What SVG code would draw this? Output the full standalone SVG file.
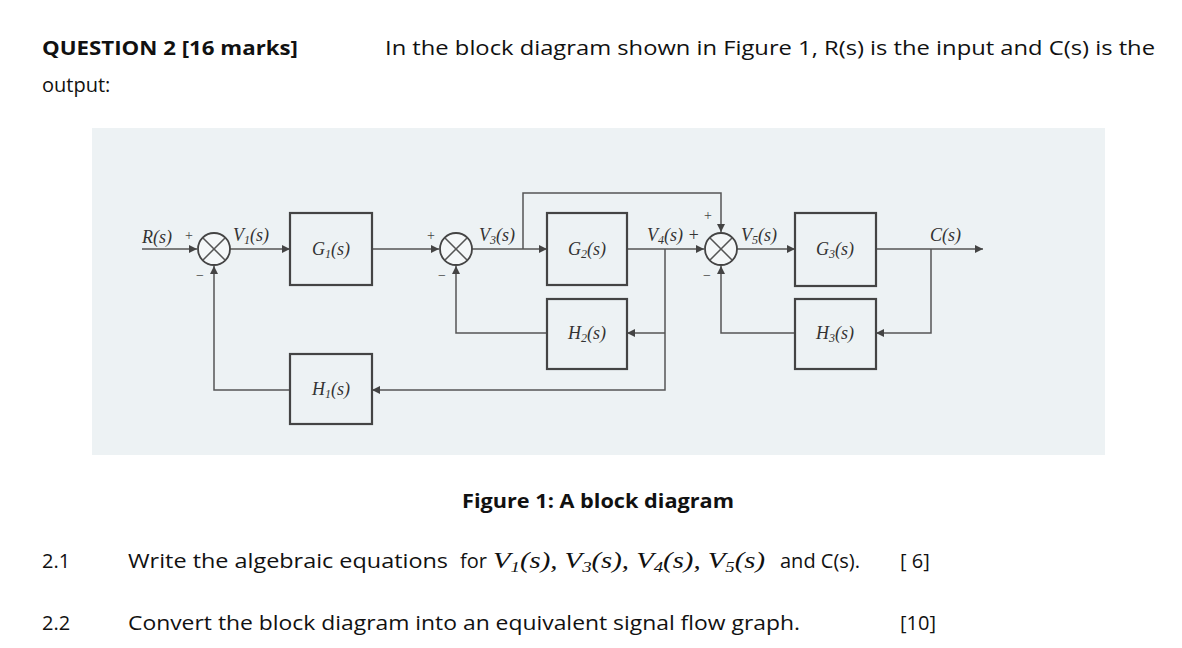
<svg xmlns="http://www.w3.org/2000/svg" width="1182" height="648" viewBox="0 0 1182 648">
<defs>
<style>
.t{font-family:"Open Sans","Liberation Sans",sans-serif;font-size:20px;fill:#111}
.b{font-weight:bold}
.m{font-family:"Liberation Serif",serif;font-style:italic;font-size:23px;fill:#111}
.d{font-family:"Liberation Serif",serif;font-style:italic;font-size:18px;fill:#333}
.s{font-family:"Liberation Serif",serif;font-size:14px;fill:#444}
.box{fill:none;stroke:#444;stroke-width:2.2}
.ln{fill:none;stroke:#555;stroke-width:1.5}
.sum{fill:#f4f7f8;stroke:#444;stroke-width:1.8}
</style>
<marker id="a" viewBox="0 0 10 10" refX="10" refY="5" markerWidth="10" markerHeight="8" markerUnits="userSpaceOnUse" orient="auto"><path d="M0,0L10,5L0,10z" fill="#444"/></marker>
</defs>
<rect width="1182" height="648" fill="#fff"/>
<text class="t b" x="42" y="55" textLength="256" lengthAdjust="spacingAndGlyphs">QUESTION 2 [16 marks]</text>
<text class="t" x="385" y="55" textLength="770" lengthAdjust="spacingAndGlyphs">In the block diagram shown in Figure 1, R(s) is the input and C(s) is the</text>
<text class="t" x="42" y="92">output:</text>
<rect x="92" y="128" width="1013" height="327" fill="#edf2f4"/>
<g id="connectors">
<path class="ln" d="M142,249H197" marker-end="url(#a)"/>
<path class="ln" d="M230,249H290" marker-end="url(#a)"/>
<path class="ln" d="M372,249H439" marker-end="url(#a)"/>
<path class="ln" d="M472,249H547" marker-end="url(#a)"/>
<path class="ln" d="M523,249V193H721V232" marker-end="url(#a)"/>
<path class="ln" d="M627,249H704" marker-end="url(#a)"/>
<path class="ln" d="M665,249V390H372" marker-end="url(#a)"/>
<path class="ln" d="M665,333H627" marker-end="url(#a)"/>
<path class="ln" d="M547,333H456V266" marker-end="url(#a)"/>
<path class="ln" d="M290,390H214V266" marker-end="url(#a)"/>
<path class="ln" d="M737,249H795" marker-end="url(#a)"/>
<path class="ln" d="M876,249H983" marker-end="url(#a)"/>
<path class="ln" d="M931,249V333H876" marker-end="url(#a)"/>
<path class="ln" d="M795,333H721V266" marker-end="url(#a)"/>
</g>
<g id="sum1"><circle class="sum" cx="214" cy="249" r="16"/><path class="ln" d="M203,238L225,260M225,238L203,260"/></g>
<g id="sum2"><circle class="sum" cx="456" cy="249" r="16"/><path class="ln" d="M445,238L467,260M467,238L445,260"/></g>
<g id="sum3"><circle class="sum" cx="721" cy="249" r="16"/><path class="ln" d="M710,238L732,260M732,238L710,260"/></g>
<g id="G1"><rect class="box" x="290" y="213" width="82" height="72"/><text class="d" x="331" y="255" text-anchor="middle">G<tspan font-size="12" dy="3">1</tspan><tspan dy="-3">(s)</tspan></text></g>
<g id="G2"><rect class="box" x="547" y="213" width="80" height="72"/><text class="d" x="587" y="255" text-anchor="middle">G<tspan font-size="12" dy="3">2</tspan><tspan dy="-3">(s)</tspan></text></g>
<g id="G3"><rect class="box" x="795" y="213" width="81" height="73"/><text class="d" x="835" y="255" text-anchor="middle">G<tspan font-size="12" dy="3">3</tspan><tspan dy="-3">(s)</tspan></text></g>
<g id="H1"><rect class="box" x="290" y="354" width="82" height="70"/><text class="d" x="331" y="395" text-anchor="middle">H<tspan font-size="12" dy="3">1</tspan><tspan dy="-3">(s)</tspan></text></g>
<g id="H2"><rect class="box" x="547" y="299" width="80" height="70"/><text class="d" x="587" y="339" text-anchor="middle">H<tspan font-size="12" dy="3">2</tspan><tspan dy="-3">(s)</tspan></text></g>
<g id="H3"><rect class="box" x="795" y="299" width="81" height="70"/><text class="d" x="835" y="339" text-anchor="middle">H<tspan font-size="12" dy="3">3</tspan><tspan dy="-3">(s)</tspan></text></g>
<g id="labels">
<text class="d" x="142" y="243">R(s)</text><text class="s" x="185" y="240">+</text>
<text class="d" x="233" y="241">V<tspan font-size="12" dy="3">1</tspan><tspan dy="-3">(s)</tspan></text>
<text class="s" x="196" y="280">−</text>
<text class="s" x="427" y="240">+</text>
<text class="s" x="438" y="280">−</text>
<text class="d" x="479" y="241">V<tspan font-size="12" dy="3">3</tspan><tspan dy="-3">(s)</tspan></text>
<text class="d" x="647" y="241">V<tspan font-size="12" dy="3">4</tspan><tspan dy="-3">(s) +</tspan></text>
<text class="s" x="704" y="220">+</text>
<text class="s" x="703" y="280">−</text>
<text class="d" x="741" y="241">V<tspan font-size="12" dy="3">5</tspan><tspan dy="-3">(s)</tspan></text>
<text class="d" x="930" y="241">C(s)</text>
</g>
<text class="t b" x="598" y="508" text-anchor="middle" textLength="272" lengthAdjust="spacingAndGlyphs">Figure 1: A block diagram</text>
<text class="t" x="42" y="568">2.1</text>
<text class="t" x="128" y="568" textLength="320" lengthAdjust="spacingAndGlyphs">Write the  algebraic equations</text>
<text class="t" x="460" y="568">for</text>
<text class="m" x="493" y="568" textLength="272" lengthAdjust="spacingAndGlyphs">V<tspan font-size="15" dy="4">1</tspan><tspan dy="-4">(s), V</tspan><tspan font-size="15" dy="4">3</tspan><tspan dy="-4">(s), V</tspan><tspan font-size="15" dy="4">4</tspan><tspan dy="-4">(s), V</tspan><tspan font-size="15" dy="4">5</tspan><tspan dy="-4">(s)</tspan></text>
<text class="t" x="780" y="568">and C(s).</text>
<text class="t" x="900" y="568">[ 6]</text>
<text class="t" x="42" y="630">2.2</text>
<text class="t" x="128" y="630" textLength="672" lengthAdjust="spacingAndGlyphs">Convert the block diagram into an equivalent signal flow graph.</text>
<text class="t" x="900" y="630">[10]</text>
</svg>
